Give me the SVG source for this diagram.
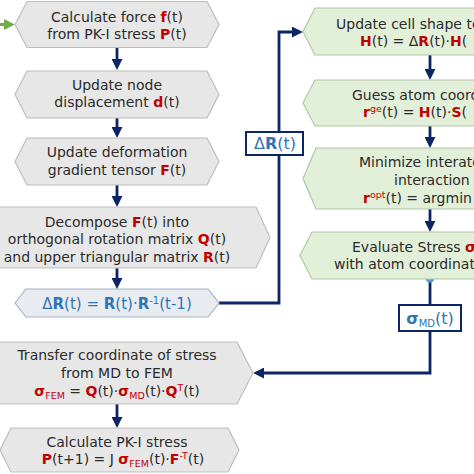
<svg xmlns="http://www.w3.org/2000/svg" width="474" height="474" viewBox="0 0 474 474">
<style>
.gray{fill:#e7e7e7;stroke:#bdbdbd;stroke-width:1.2}
.grn{fill:#e2efd9;stroke:#b3c6a6;stroke-width:1.2}
.blu{fill:#e8ebf0;stroke:#a5b4c8;stroke-width:1.2}
.t{font-family:"DejaVu Sans",Verdana,sans-serif;font-size:14px;fill:#2b2b2b}
.c{text-anchor:middle}
.r{fill:#c00000;font-weight:bold}
.rs{fill:#c00000;font-size:9.5px}
.b{fill:#2e75b6}
.bb{fill:#2e75b6;font-weight:bold}
.bs{fill:#2e75b6;font-size:10px}
.con{fill:none;stroke:#0b2565;stroke-width:2.8}
.lbl{fill:#fff;stroke:#0b2565;stroke-width:2}
</style>
<defs>
<marker id="ah" viewBox="0 0 10 10" refX="1" refY="5" markerWidth="11" markerHeight="11" markerUnits="userSpaceOnUse" orient="auto"><path d="M0,0 L10,5 L0,10 z" fill="#0b2565"/></marker>
<marker id="ag" viewBox="0 0 10 10" refX="1" refY="5" markerWidth="11" markerHeight="11" markerUnits="userSpaceOnUse" orient="auto"><path d="M0,0 L10,5 L0,10 z" fill="#70ad47"/></marker>
</defs>

<g id="connectors">
<path d="M-2,24.5 L5,24.5" fill="none" stroke="#70ad47" stroke-width="3" marker-end="url(#ag)"/>
<path class="con" d="M117,48 L117,60" marker-end="url(#ah)"/>
<path class="con" d="M117,118 L117,128" marker-end="url(#ah)"/>
<path class="con" d="M117,185 L117,197" marker-end="url(#ah)"/>
<path class="con" d="M117,268 L117,279" marker-end="url(#ah)"/>
<path class="con" d="M219,303 L279,303 L279,32 L293,32" marker-end="url(#ah)"/>
<path class="con" d="M430,55 L430,70" marker-end="url(#ah)"/>
<path class="con" d="M430,126 L430,138" marker-end="url(#ah)"/>
<path class="con" d="M430,209 L430,222" marker-end="url(#ah)"/>
<path class="con" d="M430,278 L430,373 L263,373" marker-end="url(#ah)"/>
<path class="con" d="M117,404 L117,418" marker-end="url(#ah)"/>
<circle cx="430" cy="278" r="4.5" fill="#5b9bd5"/>
<g id="label-dR">
<rect class="lbl" x="246" y="132" width="57" height="23"/>
<text class="t c b" x="275" y="148.5" style="font-size:16px">Δ<tspan class="bb">R</tspan>(t)</text>
</g>
<g id="label-sigmaMD">
<rect class="lbl" x="399" y="305" width="62" height="26"/>
<text class="t c b" x="430" y="324" style="font-size:16px"><tspan class="bb">σ</tspan><tspan class="bs" dy="3">MD</tspan><tspan dy="-3">(t)</tspan></text>
</g>
</g>

<g id="n1">
<polygon class="gray" points="15,24.5 27,1.5 207,1.5 219,24.5 207,47.5 27,47.5"/>
<text class="t c" x="117" y="21.5">Calculate force <tspan class="r">f</tspan>(t)</text>
<text class="t c" x="117" y="38.5">from PK-I stress <tspan class="r">P</tspan>(t)</text>
</g>
<g id="n2">
<polygon class="gray" points="15,94.5 27,71 207,71 219,94.5 207,118 27,118"/>
<text class="t c" x="117" y="89.5">Update node</text>
<text class="t c" x="117" y="107">displacement <tspan class="r">d</tspan>(t)</text>
</g>
<g id="n3">
<polygon class="gray" points="15,161.5 27,138 207,138 219,161.5 207,185 27,185"/>
<text class="t c" x="117" y="157">Update deformation</text>
<text class="t c" x="117" y="175">gradient tensor <tspan class="r">F</tspan>(t)</text>
</g>
<g id="n4">
<polygon class="gray" points="-3,207 256,207 270,237.5 256,268 -3,268"/>
<text class="t c" x="117" y="226.5">Decompose <tspan class="r">F</tspan>(t) into</text>
<text class="t c" x="117" y="244">orthogonal rotation matrix <tspan class="r">Q</tspan>(t)</text>
<text class="t c" x="117" y="261.5">and upper triangular matrix <tspan class="r">R</tspan>(t)</text>
</g>
<g id="n5">
<polygon class="blu" points="15,303 26,289 208,289 219,303 208,317 26,317"/>
<text class="t c b" x="117" y="308.5" style="font-size:15px">Δ<tspan class="bb">R</tspan>(t) = <tspan class="bb">R</tspan>(t)·<tspan class="bb">R</tspan><tspan class="bs" dy="-5">-1</tspan><tspan dy="5">(t-1)</tspan></text>
</g>
<g id="n6">
<polygon class="gray" points="-3,342 237,342 253,373 237,404 -3,404"/>
<text class="t c" x="117" y="360">Transfer coordinate of stress</text>
<text class="t c" x="117" y="378">from MD to FEM</text>
<text class="t c" x="117" y="396"><tspan class="r">σ</tspan><tspan class="rs" dy="3">FEM</tspan><tspan dy="-3"> = </tspan><tspan class="r">Q</tspan>(t)·<tspan class="r">σ</tspan><tspan class="rs" dy="3">MD</tspan><tspan dy="-3">(t)·</tspan><tspan class="r">Q</tspan><tspan class="rs" dy="-5">T</tspan><tspan dy="5">(t)</tspan></text>
</g>
<g id="n7">
<polygon class="gray" points="0,450 11,428 228,428 239,450 228,472 11,472"/>
<text class="t c" x="117" y="447">Calculate PK-I stress</text>
<text class="t c" x="123" y="464"><tspan class="r">P</tspan>(t+1) = J <tspan class="r">σ</tspan><tspan class="rs" dy="3">FEM</tspan><tspan dy="-3">(t)·</tspan><tspan class="r">F</tspan><tspan class="rs" dy="-5">-T</tspan><tspan dy="5">(t)</tspan></text>
</g>

<g id="g1">
<polygon class="grn" points="303,31.5 315,8 480,8 480,55 315,55"/>
<text class="t" x="336" y="28.5">Update cell shape te</text>
<text class="t" x="360" y="45.5"><tspan class="r">H</tspan>(t) = Δ<tspan class="r">R</tspan>(t)·<tspan class="r">H</tspan>(</text>
</g>
<g id="g2">
<polygon class="grn" points="303,103 315,80 480,80 480,126 315,126"/>
<text class="t" x="352" y="99.5">Guess atom coord</text>
<text class="t" x="363" y="117"><tspan class="r">r</tspan><tspan class="rs" dy="-5">ge</tspan><tspan dy="5">(t) = </tspan><tspan class="r">H</tspan>(t)·<tspan class="r">S</tspan>(</text>
</g>
<g id="g3">
<polygon class="grn" points="303,178.5 316,148 480,148 480,209 316,209"/>
<text class="t" x="359" y="167">Minimize interato</text>
<text class="t" x="394" y="185">interaction</text>
<text class="t" x="363" y="203"><tspan class="r">r</tspan><tspan class="rs" dy="-5">opt</tspan><tspan dy="5">(t) = argmin</tspan></text>
</g>
<g id="g4">
<polygon class="grn" points="300,255.5 312,232 480,232 480,279 312,279"/>
<text class="t" x="352" y="251.5">Evaluate Stress <tspan class="r">σ</tspan></text>
<text class="t" x="334" y="268.5">with atom coordinat</text>
</g>
</svg>
